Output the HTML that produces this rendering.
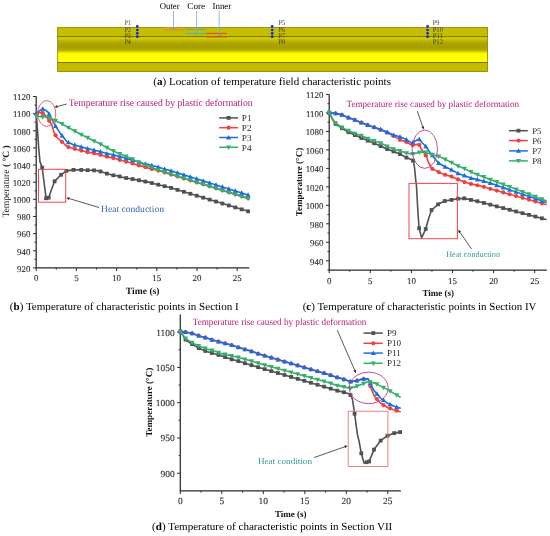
<!DOCTYPE html>
<html><head><meta charset="utf-8"><title>Temperature field characteristic points</title>
<style>html,body{margin:0;padding:0;background:#fff;}body{width:550px;height:536px;overflow:hidden;}svg{display:block;font-family:"Liberation Serif", "DejaVu Serif", serif;text-rendering:geometricPrecision;}</style></head><body>
<svg width="550" height="536" viewBox="0 0 550 536">
<defs><linearGradient id="mid" x1="0" y1="0" x2="0" y2="1"><stop offset="0" stop-color="#d6d200"/><stop offset="0.08" stop-color="#d2cc00"/><stop offset="0.197" stop-color="#b8b000"/><stop offset="0.313" stop-color="#aaa200"/><stop offset="0.429" stop-color="#a8a000"/><stop offset="0.525" stop-color="#b4ac00"/><stop offset="0.602" stop-color="#dcd800"/><stop offset="0.66" stop-color="#fafa00"/><stop offset="0.718" stop-color="#ffff00"/><stop offset="0.969" stop-color="#ffff00"/><stop offset="1" stop-color="#e8e400"/></linearGradient></defs>
<rect width="550" height="536" fill="#fff"/>
<rect x="57.4" y="27.2" width="430.4" height="9.2" fill="#c4bd00"/>
<rect x="57.4" y="36.4" width="430.4" height="25.9" fill="url(#mid)"/>
<rect x="57.4" y="62.3" width="430.4" height="9.5" fill="#c2bb00"/>
<rect x="57.7" y="27.5" width="429.8" height="44" fill="none" stroke="#8f8700" stroke-width="0.8"/>
<path d="M57.4 36.6H487.8 M57.4 62.5H487.8" stroke="#7a7000" stroke-width="1"/>
<path d="M164 27.5H184.2" stroke="#f07a30" stroke-width="0.9"/>
<path d="M164 29.9H184.2" stroke="#e8803a" stroke-width="0.9"/>
<path d="M185.9 29.5H206.5 M185.9 33.5H206.5" stroke="#30b8c8" stroke-width="0.9"/>
<path d="M206.5 33.4H227 M206.5 36.9H227" stroke="#e04010" stroke-width="0.9"/>
<path d="M173.5 11V28.5 M196.6 11V33 M219.2 11V35" stroke="#6aaef0" stroke-width="0.8"/>
<circle cx="173.5" cy="28.6" r="1.1" fill="#5aa0ee"/>
<circle cx="196.6" cy="33.1" r="1.1" fill="#5aa0ee"/>
<circle cx="219.2" cy="35.1" r="1.1" fill="#5aa0ee"/>
<text x="169.7" y="9.1" font-size="9.2" text-anchor="middle" fill="#000" textLength="19.9" lengthAdjust="spacingAndGlyphs">Outer</text>
<text x="196.2" y="9.1" font-size="9.2" text-anchor="middle" fill="#000" textLength="17.9" lengthAdjust="spacingAndGlyphs">Core</text>
<text x="221.9" y="9.1" font-size="9.2" text-anchor="middle" fill="#000" textLength="18.9" lengthAdjust="spacingAndGlyphs">Inner</text>
<circle cx="137.3" cy="26.4" r="1.35" fill="#0a28e8"/>
<circle cx="137.3" cy="30" r="1.35" fill="#0a28e8"/>
<circle cx="137.3" cy="33.3" r="1.35" fill="#0a28e8"/>
<circle cx="137.3" cy="36.7" r="1.35" fill="#0a28e8"/>
<text x="124.4" y="24.8" font-size="7.3" text-anchor="start" fill="#3c3c3c" textLength="6.6" lengthAdjust="spacingAndGlyphs">P1</text>
<text x="124.4" y="31.5" font-size="7.3" text-anchor="start" fill="#3c3c3c" textLength="6.6" lengthAdjust="spacingAndGlyphs">P2</text>
<text x="124.4" y="37.7" font-size="7.3" text-anchor="start" fill="#3c3c3c" textLength="6.6" lengthAdjust="spacingAndGlyphs">P3</text>
<text x="124.4" y="44" font-size="7.3" text-anchor="start" fill="#3c3c3c" textLength="6.6" lengthAdjust="spacingAndGlyphs">P4</text>
<circle cx="272.2" cy="26.4" r="1.35" fill="#0a28e8"/>
<circle cx="272.2" cy="30" r="1.35" fill="#0a28e8"/>
<circle cx="272.2" cy="33.3" r="1.35" fill="#0a28e8"/>
<circle cx="272.2" cy="36.7" r="1.35" fill="#0a28e8"/>
<text x="278.6" y="24.8" font-size="7.3" text-anchor="start" fill="#3c3c3c" textLength="6.6" lengthAdjust="spacingAndGlyphs">P5</text>
<text x="278.6" y="31.5" font-size="7.3" text-anchor="start" fill="#3c3c3c" textLength="6.6" lengthAdjust="spacingAndGlyphs">P6</text>
<text x="278.6" y="37.7" font-size="7.3" text-anchor="start" fill="#3c3c3c" textLength="6.6" lengthAdjust="spacingAndGlyphs">P7</text>
<text x="278.6" y="44" font-size="7.3" text-anchor="start" fill="#3c3c3c" textLength="6.6" lengthAdjust="spacingAndGlyphs">P8</text>
<circle cx="427.6" cy="26.4" r="1.35" fill="#0a28e8"/>
<circle cx="427.6" cy="30" r="1.35" fill="#0a28e8"/>
<circle cx="427.6" cy="33.3" r="1.35" fill="#0a28e8"/>
<circle cx="427.6" cy="36.7" r="1.35" fill="#0a28e8"/>
<text x="432.7" y="24.8" font-size="7.3" text-anchor="start" fill="#3c3c3c" textLength="6.6" lengthAdjust="spacingAndGlyphs">P9</text>
<text x="432.7" y="31.5" font-size="7.3" text-anchor="start" fill="#3c3c3c" textLength="10.3" lengthAdjust="spacingAndGlyphs">P10</text>
<text x="432.7" y="37.7" font-size="7.3" text-anchor="start" fill="#3c3c3c" textLength="10.3" lengthAdjust="spacingAndGlyphs">P11</text>
<text x="432.7" y="44" font-size="7.3" text-anchor="start" fill="#3c3c3c" textLength="10.3" lengthAdjust="spacingAndGlyphs">P12</text>
<text x="153.2" y="84.9" font-size="10.9" fill="#000" textLength="237.8" lengthAdjust="spacingAndGlyphs">(<tspan font-weight="bold">a</tspan>) Location of temperature field characteristic points</text>
<path d="M36.2 96.3 V267.9 H249.3" fill="none" stroke="#2b2b2b" stroke-width="1.25"/>
<path d="M33 267.9H36.2" stroke="#2b2b2b" stroke-width="1"/>
<text x="30.4" y="271.74" font-size="8.9" text-anchor="end" fill="#2a2a2a" stroke="#2a2a2a" stroke-width="0.1">920</text>
<path d="M33 250.76H36.2" stroke="#2b2b2b" stroke-width="1"/>
<text x="30.4" y="254.6" font-size="8.9" text-anchor="end" fill="#2a2a2a" stroke="#2a2a2a" stroke-width="0.1">940</text>
<path d="M33 233.62H36.2" stroke="#2b2b2b" stroke-width="1"/>
<text x="30.4" y="237.46" font-size="8.9" text-anchor="end" fill="#2a2a2a" stroke="#2a2a2a" stroke-width="0.1">960</text>
<path d="M33 216.48H36.2" stroke="#2b2b2b" stroke-width="1"/>
<text x="30.4" y="220.32" font-size="8.9" text-anchor="end" fill="#2a2a2a" stroke="#2a2a2a" stroke-width="0.1">980</text>
<path d="M33 199.34H36.2" stroke="#2b2b2b" stroke-width="1"/>
<text x="30.4" y="203.18" font-size="8.9" text-anchor="end" fill="#2a2a2a" stroke="#2a2a2a" stroke-width="0.1">1000</text>
<path d="M33 182.2H36.2" stroke="#2b2b2b" stroke-width="1"/>
<text x="30.4" y="186.04" font-size="8.9" text-anchor="end" fill="#2a2a2a" stroke="#2a2a2a" stroke-width="0.1">1020</text>
<path d="M33 165.06H36.2" stroke="#2b2b2b" stroke-width="1"/>
<text x="30.4" y="168.9" font-size="8.9" text-anchor="end" fill="#2a2a2a" stroke="#2a2a2a" stroke-width="0.1">1040</text>
<path d="M33 147.92H36.2" stroke="#2b2b2b" stroke-width="1"/>
<text x="30.4" y="151.76" font-size="8.9" text-anchor="end" fill="#2a2a2a" stroke="#2a2a2a" stroke-width="0.1">1060</text>
<path d="M33 130.78H36.2" stroke="#2b2b2b" stroke-width="1"/>
<text x="30.4" y="134.62" font-size="8.9" text-anchor="end" fill="#2a2a2a" stroke="#2a2a2a" stroke-width="0.1">1080</text>
<path d="M33 113.64H36.2" stroke="#2b2b2b" stroke-width="1"/>
<text x="30.4" y="117.48" font-size="8.9" text-anchor="end" fill="#2a2a2a" stroke="#2a2a2a" stroke-width="0.1">1100</text>
<path d="M33 96.5H36.2" stroke="#2b2b2b" stroke-width="1"/>
<text x="30.4" y="100.34" font-size="8.9" text-anchor="end" fill="#2a2a2a" stroke="#2a2a2a" stroke-width="0.1">1120</text>
<path d="M34.4 259.33H36.2" stroke="#2b2b2b" stroke-width="0.9"/>
<path d="M34.4 242.19H36.2" stroke="#2b2b2b" stroke-width="0.9"/>
<path d="M34.4 225.05H36.2" stroke="#2b2b2b" stroke-width="0.9"/>
<path d="M34.4 207.91H36.2" stroke="#2b2b2b" stroke-width="0.9"/>
<path d="M34.4 190.77H36.2" stroke="#2b2b2b" stroke-width="0.9"/>
<path d="M34.4 173.63H36.2" stroke="#2b2b2b" stroke-width="0.9"/>
<path d="M34.4 156.49H36.2" stroke="#2b2b2b" stroke-width="0.9"/>
<path d="M34.4 139.35H36.2" stroke="#2b2b2b" stroke-width="0.9"/>
<path d="M34.4 122.21H36.2" stroke="#2b2b2b" stroke-width="0.9"/>
<path d="M34.4 105.07H36.2" stroke="#2b2b2b" stroke-width="0.9"/>
<path d="M36.2 267.9V271.1" stroke="#2b2b2b" stroke-width="1"/>
<text x="36.2" y="281.1" font-size="8.9" text-anchor="middle" fill="#2a2a2a" stroke="#2a2a2a" stroke-width="0.1">0</text>
<path d="M76.4 267.9V271.1" stroke="#2b2b2b" stroke-width="1"/>
<text x="76.4" y="281.1" font-size="8.9" text-anchor="middle" fill="#2a2a2a" stroke="#2a2a2a" stroke-width="0.1">5</text>
<path d="M116.6 267.9V271.1" stroke="#2b2b2b" stroke-width="1"/>
<text x="116.6" y="281.1" font-size="8.9" text-anchor="middle" fill="#2a2a2a" stroke="#2a2a2a" stroke-width="0.1">10</text>
<path d="M156.8 267.9V271.1" stroke="#2b2b2b" stroke-width="1"/>
<text x="156.8" y="281.1" font-size="8.9" text-anchor="middle" fill="#2a2a2a" stroke="#2a2a2a" stroke-width="0.1">15</text>
<path d="M197 267.9V271.1" stroke="#2b2b2b" stroke-width="1"/>
<text x="197" y="281.1" font-size="8.9" text-anchor="middle" fill="#2a2a2a" stroke="#2a2a2a" stroke-width="0.1">20</text>
<path d="M237.2 267.9V271.1" stroke="#2b2b2b" stroke-width="1"/>
<text x="237.2" y="281.1" font-size="8.9" text-anchor="middle" fill="#2a2a2a" stroke="#2a2a2a" stroke-width="0.1">25</text>
<path d="M56.3 267.9V269.7" stroke="#2b2b2b" stroke-width="0.9"/>
<path d="M96.5 267.9V269.7" stroke="#2b2b2b" stroke-width="0.9"/>
<path d="M136.7 267.9V269.7" stroke="#2b2b2b" stroke-width="0.9"/>
<path d="M176.9 267.9V269.7" stroke="#2b2b2b" stroke-width="0.9"/>
<path d="M217.1 267.9V269.7" stroke="#2b2b2b" stroke-width="0.9"/>
<text x="142.7" y="294.3" font-size="9.5" text-anchor="middle" fill="#111" font-weight="bold" textLength="33.7" lengthAdjust="spacingAndGlyphs">Time (s)</text>
<text x="0" y="0" font-size="9.6" text-anchor="middle" fill="#1a1a1a" textLength="72.4" lengthAdjust="spacingAndGlyphs" transform="translate(8.6 181.4) rotate(-90)">Temperature<tspan font-weight="bold"> ( °C )</tspan></text>
<path d="M36.3 113.5 L37.6 131.8 L38.8 149.7 L40 161.6 L42.2 167.6 L44.1 182.6 L46.1 198.3 L48.7 197.7 L50.7 191.8 L54.6 181.3 L56.5 179.4 L61.1 174.8 L66.3 170.9 L73.5 169.9 L80 169.9 L86.6 170.2 L92.5 170.2 L99 170.9 L105.2 173.1 L111.8 175.1 L117.6 175.9 L124.2 177.7 L130.7 178.8 L137.2 179.9 L143.1 181.1 L149.6 182.4 L156.2 184.2 L162.7 185.7 L170 187.6 L248.1 211.3" fill="none" stroke="#515151" stroke-width="1.6" stroke-linejoin="round" stroke-linecap="round"/>
<rect x="40.3" y="165.7" width="3.8" height="3.8" fill="#515151"/>
<rect x="44.2" y="196.4" width="3.8" height="3.8" fill="#515151"/>
<rect x="46.8" y="195.8" width="3.8" height="3.8" fill="#515151"/>
<rect x="52.7" y="179.4" width="3.8" height="3.8" fill="#515151"/>
<rect x="59.2" y="172.9" width="3.8" height="3.8" fill="#515151"/>
<rect x="64.4" y="169" width="3.8" height="3.8" fill="#515151"/>
<rect x="71.6" y="168" width="3.8" height="3.8" fill="#515151"/>
<rect x="79.33" y="168.06" width="3.8" height="3.8" fill="#515151"/>
<rect x="85.74" y="168.3" width="3.8" height="3.8" fill="#515151"/>
<rect x="92.16" y="168.47" width="3.8" height="3.8" fill="#515151"/>
<rect x="98.58" y="169.53" width="3.8" height="3.8" fill="#515151"/>
<rect x="105" y="171.71" width="3.8" height="3.8" fill="#515151"/>
<rect x="111.42" y="173.41" width="3.8" height="3.8" fill="#515151"/>
<rect x="117.83" y="174.58" width="3.8" height="3.8" fill="#515151"/>
<rect x="124.25" y="176.13" width="3.8" height="3.8" fill="#515151"/>
<rect x="130.67" y="177.22" width="3.8" height="3.8" fill="#515151"/>
<rect x="137.09" y="178.36" width="3.8" height="3.8" fill="#515151"/>
<rect x="143.51" y="179.66" width="3.8" height="3.8" fill="#515151"/>
<rect x="149.92" y="181.11" width="3.8" height="3.8" fill="#515151"/>
<rect x="156.34" y="182.77" width="3.8" height="3.8" fill="#515151"/>
<rect x="162.76" y="184.31" width="3.8" height="3.8" fill="#515151"/>
<rect x="169.18" y="186.03" width="3.8" height="3.8" fill="#515151"/>
<rect x="175.6" y="187.97" width="3.8" height="3.8" fill="#515151"/>
<rect x="182.01" y="189.92" width="3.8" height="3.8" fill="#515151"/>
<rect x="188.43" y="191.87" width="3.8" height="3.8" fill="#515151"/>
<rect x="194.85" y="193.82" width="3.8" height="3.8" fill="#515151"/>
<rect x="201.27" y="195.77" width="3.8" height="3.8" fill="#515151"/>
<rect x="207.69" y="197.71" width="3.8" height="3.8" fill="#515151"/>
<rect x="214.1" y="199.66" width="3.8" height="3.8" fill="#515151"/>
<rect x="220.52" y="201.61" width="3.8" height="3.8" fill="#515151"/>
<rect x="226.94" y="203.56" width="3.8" height="3.8" fill="#515151"/>
<rect x="233.36" y="205.5" width="3.8" height="3.8" fill="#515151"/>
<rect x="239.78" y="207.45" width="3.8" height="3.8" fill="#515151"/>
<rect x="246.19" y="209.4" width="3.8" height="3.8" fill="#515151"/>
<path d="M36.3 114 L39 112.8 L42.2 112.4 L45 115 L48 119 L52 125.5 L54.6 134 L57.5 138 L61.1 141.1 L67.6 146.8 L73.5 148.6 L80 150.3 L86.6 152 L92.5 152.9 L99 154.4 L105.9 156.6 L111.8 157.6 L118.3 159.6 L124.8 161.3 L130.7 162.8 L137.2 165 L143.1 166.6 L149.6 168.4 L156.2 170 L162.7 171.8 L170 174.2 L248.1 197.9" fill="none" stroke="#F14040" stroke-width="1.6" stroke-linejoin="round" stroke-linecap="round"/>
<circle cx="36.3" cy="114" r="2.1" fill="#F14040"/>
<circle cx="42.72" cy="112.88" r="2.1" fill="#F14040"/>
<circle cx="49.14" cy="120.85" r="2.1" fill="#F14040"/>
<circle cx="55.55" cy="135.32" r="2.1" fill="#F14040"/>
<circle cx="61.97" cy="141.86" r="2.1" fill="#F14040"/>
<circle cx="68.39" cy="147.04" r="2.1" fill="#F14040"/>
<circle cx="74.81" cy="148.94" r="2.1" fill="#F14040"/>
<circle cx="81.23" cy="150.62" r="2.1" fill="#F14040"/>
<circle cx="87.64" cy="152.16" r="2.1" fill="#F14040"/>
<circle cx="94.06" cy="153.26" r="2.1" fill="#F14040"/>
<circle cx="100.48" cy="154.87" r="2.1" fill="#F14040"/>
<circle cx="106.9" cy="156.77" r="2.1" fill="#F14040"/>
<circle cx="113.32" cy="158.07" r="2.1" fill="#F14040"/>
<circle cx="119.73" cy="159.98" r="2.1" fill="#F14040"/>
<circle cx="126.15" cy="161.64" r="2.1" fill="#F14040"/>
<circle cx="132.57" cy="163.43" r="2.1" fill="#F14040"/>
<circle cx="138.99" cy="165.48" r="2.1" fill="#F14040"/>
<circle cx="145.41" cy="167.24" r="2.1" fill="#F14040"/>
<circle cx="151.82" cy="168.94" r="2.1" fill="#F14040"/>
<circle cx="158.24" cy="170.57" r="2.1" fill="#F14040"/>
<circle cx="164.66" cy="172.44" r="2.1" fill="#F14040"/>
<circle cx="171.08" cy="174.53" r="2.1" fill="#F14040"/>
<circle cx="177.5" cy="176.47" r="2.1" fill="#F14040"/>
<circle cx="183.91" cy="178.42" r="2.1" fill="#F14040"/>
<circle cx="190.33" cy="180.37" r="2.1" fill="#F14040"/>
<circle cx="196.75" cy="182.32" r="2.1" fill="#F14040"/>
<circle cx="203.17" cy="184.27" r="2.1" fill="#F14040"/>
<circle cx="209.59" cy="186.21" r="2.1" fill="#F14040"/>
<circle cx="216" cy="188.16" r="2.1" fill="#F14040"/>
<circle cx="222.42" cy="190.11" r="2.1" fill="#F14040"/>
<circle cx="228.84" cy="192.06" r="2.1" fill="#F14040"/>
<circle cx="235.26" cy="194" r="2.1" fill="#F14040"/>
<circle cx="241.68" cy="195.95" r="2.1" fill="#F14040"/>
<circle cx="248.09" cy="197.9" r="2.1" fill="#F14040"/>
<path d="M36.3 113.3 L39.5 110.8 L42.8 108.7 L45.5 110.2 L48 112.2 L50.7 117 L55.2 125.5 L61.1 134.6 L67 141.8 L72.9 144.4 L80 146.4 L86.6 148.3 L92.5 149.8 L99 151.3 L105.9 153.3 L111.8 154.5 L118.3 156.1 L124.8 158.1 L130.7 159.8 L137.2 161.6 L143.1 163.3 L149.6 164.8 L156.2 166.6 L162.7 168.5 L170 170.5 L248.1 195" fill="none" stroke="#1A6FDF" stroke-width="1.6" stroke-linejoin="round" stroke-linecap="round"/>
<path d="M36.3 110.67L38.8 115.17L33.8 115.17Z" fill="#1A6FDF"/>
<path d="M42.72 106.13L45.22 110.63L40.22 110.63Z" fill="#1A6FDF"/>
<path d="M49.14 111.59L51.64 116.09L46.64 116.09Z" fill="#1A6FDF"/>
<path d="M55.55 123.42L58.05 127.92L53.05 127.92Z" fill="#1A6FDF"/>
<path d="M61.97 133.04L64.47 137.54L59.47 137.54Z" fill="#1A6FDF"/>
<path d="M68.39 139.79L70.89 144.29L65.89 144.29Z" fill="#1A6FDF"/>
<path d="M74.81 142.31L77.31 146.81L72.31 146.81Z" fill="#1A6FDF"/>
<path d="M81.23 144.13L83.73 148.63L78.73 148.63Z" fill="#1A6FDF"/>
<path d="M87.64 145.94L90.14 150.44L85.14 150.44Z" fill="#1A6FDF"/>
<path d="M94.06 147.54L96.56 152.04L91.56 152.04Z" fill="#1A6FDF"/>
<path d="M100.48 149.1L102.98 153.6L97.98 153.6Z" fill="#1A6FDF"/>
<path d="M106.9 150.88L109.4 155.38L104.4 155.38Z" fill="#1A6FDF"/>
<path d="M113.32 152.25L115.82 156.75L110.82 156.75Z" fill="#1A6FDF"/>
<path d="M119.73 153.92L122.23 158.42L117.23 158.42Z" fill="#1A6FDF"/>
<path d="M126.15 155.86L128.65 160.36L123.65 160.36Z" fill="#1A6FDF"/>
<path d="M132.57 157.69L135.07 162.19L130.07 162.19Z" fill="#1A6FDF"/>
<path d="M138.99 159.49L141.49 163.99L136.49 163.99Z" fill="#1A6FDF"/>
<path d="M145.41 161.21L147.91 165.71L142.91 165.71Z" fill="#1A6FDF"/>
<path d="M151.82 162.78L154.32 167.28L149.32 167.28Z" fill="#1A6FDF"/>
<path d="M158.24 164.57L160.74 169.07L155.74 169.07Z" fill="#1A6FDF"/>
<path d="M164.66 166.41L167.16 170.91L162.16 170.91Z" fill="#1A6FDF"/>
<path d="M171.08 168.21L173.58 172.71L168.58 172.71Z" fill="#1A6FDF"/>
<path d="M177.5 170.23L180 174.73L175 174.73Z" fill="#1A6FDF"/>
<path d="M183.91 172.24L186.41 176.74L181.41 176.74Z" fill="#1A6FDF"/>
<path d="M190.33 174.25L192.83 178.75L187.83 178.75Z" fill="#1A6FDF"/>
<path d="M196.75 176.27L199.25 180.77L194.25 180.77Z" fill="#1A6FDF"/>
<path d="M203.17 178.28L205.67 182.78L200.67 182.78Z" fill="#1A6FDF"/>
<path d="M209.59 180.29L212.09 184.79L207.09 184.79Z" fill="#1A6FDF"/>
<path d="M216 182.31L218.5 186.81L213.5 186.81Z" fill="#1A6FDF"/>
<path d="M222.42 184.32L224.92 188.82L219.92 188.82Z" fill="#1A6FDF"/>
<path d="M228.84 186.33L231.34 190.83L226.34 190.83Z" fill="#1A6FDF"/>
<path d="M235.26 188.35L237.76 192.85L232.76 192.85Z" fill="#1A6FDF"/>
<path d="M241.68 190.36L244.18 194.86L239.18 194.86Z" fill="#1A6FDF"/>
<path d="M248.09 192.37L250.59 196.87L245.59 196.87Z" fill="#1A6FDF"/>
<path d="M36.3 116 L42.8 117 L48 117 L54.6 120.2 L61.1 123.5 L67 126.8 L74.2 130.7 L80 134 L86.6 137.2 L92.5 140.3 L99 143.3 L105.9 147 L111.8 150.2 L118.3 153.2 L124.8 155.9 L130.7 158.3 L137.2 161.6 L143.1 164.3 L149.6 166.6 L156.2 169.2 L162.7 171.3 L170 173.8 L248.1 198.7" fill="none" stroke="#37AD6B" stroke-width="1.6" stroke-linejoin="round" stroke-linecap="round"/>
<path d="M36.3 118.62L38.8 114.12L33.8 114.12Z" fill="#37AD6B"/>
<path d="M42.72 119.61L45.22 115.11L40.22 115.11Z" fill="#37AD6B"/>
<path d="M49.14 120.18L51.64 115.68L46.64 115.68Z" fill="#37AD6B"/>
<path d="M55.55 123.31L58.05 118.81L53.05 118.81Z" fill="#37AD6B"/>
<path d="M61.97 126.61L64.47 122.11L59.47 122.11Z" fill="#37AD6B"/>
<path d="M68.39 130.18L70.89 125.68L65.89 125.68Z" fill="#37AD6B"/>
<path d="M74.81 133.67L77.31 129.17L72.31 129.17Z" fill="#37AD6B"/>
<path d="M81.23 137.22L83.73 132.72L78.73 132.72Z" fill="#37AD6B"/>
<path d="M87.64 140.37L90.14 135.87L85.14 135.87Z" fill="#37AD6B"/>
<path d="M94.06 143.65L96.56 139.15L91.56 139.15Z" fill="#37AD6B"/>
<path d="M100.48 146.72L102.98 142.22L97.98 142.22Z" fill="#37AD6B"/>
<path d="M106.9 150.17L109.4 145.67L104.4 145.67Z" fill="#37AD6B"/>
<path d="M113.32 153.52L115.82 149.02L110.82 149.02Z" fill="#37AD6B"/>
<path d="M119.73 156.42L122.23 151.92L117.23 151.92Z" fill="#37AD6B"/>
<path d="M126.15 159.07L128.65 154.57L123.65 154.57Z" fill="#37AD6B"/>
<path d="M132.57 161.87L135.07 157.37L130.07 157.37Z" fill="#37AD6B"/>
<path d="M138.99 165.04L141.49 160.54L136.49 160.54Z" fill="#37AD6B"/>
<path d="M145.41 167.74L147.91 163.24L142.91 163.24Z" fill="#37AD6B"/>
<path d="M151.82 170.1L154.32 165.6L149.32 165.6Z" fill="#37AD6B"/>
<path d="M158.24 172.48L160.74 167.98L155.74 167.98Z" fill="#37AD6B"/>
<path d="M164.66 174.6L167.16 170.1L162.16 170.1Z" fill="#37AD6B"/>
<path d="M171.08 176.77L173.58 172.27L168.58 172.27Z" fill="#37AD6B"/>
<path d="M177.5 178.81L180 174.31L175 174.31Z" fill="#37AD6B"/>
<path d="M183.91 180.86L186.41 176.36L181.41 176.36Z" fill="#37AD6B"/>
<path d="M190.33 182.91L192.83 178.41L187.83 178.41Z" fill="#37AD6B"/>
<path d="M196.75 184.95L199.25 180.45L194.25 180.45Z" fill="#37AD6B"/>
<path d="M203.17 187L205.67 182.5L200.67 182.5Z" fill="#37AD6B"/>
<path d="M209.59 189.05L212.09 184.55L207.09 184.55Z" fill="#37AD6B"/>
<path d="M216 191.09L218.5 186.59L213.5 186.59Z" fill="#37AD6B"/>
<path d="M222.42 193.14L224.92 188.64L219.92 188.64Z" fill="#37AD6B"/>
<path d="M228.84 195.18L231.34 190.68L226.34 190.68Z" fill="#37AD6B"/>
<path d="M235.26 197.23L237.76 192.73L232.76 192.73Z" fill="#37AD6B"/>
<path d="M241.68 199.28L244.18 194.78L239.18 194.78Z" fill="#37AD6B"/>
<path d="M248.09 201.32L250.59 196.82L245.59 196.82Z" fill="#37AD6B"/>
<ellipse cx="46.7" cy="113.5" rx="9" ry="12.9" fill="none" stroke="#e05050" stroke-width="0.9"/>
<rect x="38.5" y="169.3" width="27.2" height="32.9" fill="none" stroke="#f04848" stroke-width="1"/>
<path d="M66.8 104L57.49 106.48" stroke="#222" stroke-width="0.75"/>
<path d="M54.4 107.3L57.13 105.12L57.85 107.83Z" fill="#222"/>
<path d="M99 207.5L69.37 198.62" stroke="#222" stroke-width="0.75"/>
<path d="M66.3 197.7L69.77 197.28L68.96 199.96Z" fill="#222"/>
<text x="68.7" y="105.5" font-size="10.1" text-anchor="start" fill="#B41C70" textLength="184" lengthAdjust="spacingAndGlyphs">Temperature rise caused by plastic deformation</text>
<text x="101.1" y="212.4" font-size="9.4" text-anchor="start" fill="#3363b0" textLength="62.9" lengthAdjust="spacingAndGlyphs">Heat conduction</text>
<path d="M219.1 117.9H238" stroke="#515151" stroke-width="1.5"/>
<rect x="226.7" y="116" width="3.8" height="3.8" fill="#515151"/>
<text x="241.8" y="121.2" font-size="9.2" text-anchor="start" fill="#2a2a2a">P1</text>
<path d="M219.1 127.7H238" stroke="#F14040" stroke-width="1.5"/>
<circle cx="228.6" cy="127.7" r="2.1" fill="#F14040"/>
<text x="241.8" y="131" font-size="9.2" text-anchor="start" fill="#2a2a2a">P2</text>
<path d="M219.1 137.5H238" stroke="#1A6FDF" stroke-width="1.5"/>
<path d="M228.6 134.88L231.1 139.38L226.1 139.38Z" fill="#1A6FDF"/>
<text x="241.8" y="140.8" font-size="9.2" text-anchor="start" fill="#2a2a2a">P3</text>
<path d="M219.1 147.3H238" stroke="#37AD6B" stroke-width="1.5"/>
<path d="M228.6 149.93L231.1 145.43L226.1 145.43Z" fill="#37AD6B"/>
<text x="241.8" y="150.6" font-size="9.2" text-anchor="start" fill="#2a2a2a">P4</text>
<text x="9.8" y="310.4" font-size="10.9" fill="#000" textLength="228.9" lengthAdjust="spacingAndGlyphs">(<tspan font-weight="bold">b</tspan>) Temperature of characteristic points in Section I</text>
<path d="M329.2 94.4 V270 H546.9" fill="none" stroke="#2b2b2b" stroke-width="1.25"/>
<path d="M326 260.76H329.2" stroke="#2b2b2b" stroke-width="1"/>
<text x="323.4" y="264.6" font-size="8.9" text-anchor="end" fill="#2a2a2a" stroke="#2a2a2a" stroke-width="0.1">940</text>
<path d="M326 242.28H329.2" stroke="#2b2b2b" stroke-width="1"/>
<text x="323.4" y="246.12" font-size="8.9" text-anchor="end" fill="#2a2a2a" stroke="#2a2a2a" stroke-width="0.1">960</text>
<path d="M326 223.8H329.2" stroke="#2b2b2b" stroke-width="1"/>
<text x="323.4" y="227.64" font-size="8.9" text-anchor="end" fill="#2a2a2a" stroke="#2a2a2a" stroke-width="0.1">980</text>
<path d="M326 205.32H329.2" stroke="#2b2b2b" stroke-width="1"/>
<text x="323.4" y="209.16" font-size="8.9" text-anchor="end" fill="#2a2a2a" stroke="#2a2a2a" stroke-width="0.1">1000</text>
<path d="M326 186.84H329.2" stroke="#2b2b2b" stroke-width="1"/>
<text x="323.4" y="190.68" font-size="8.9" text-anchor="end" fill="#2a2a2a" stroke="#2a2a2a" stroke-width="0.1">1020</text>
<path d="M326 168.36H329.2" stroke="#2b2b2b" stroke-width="1"/>
<text x="323.4" y="172.2" font-size="8.9" text-anchor="end" fill="#2a2a2a" stroke="#2a2a2a" stroke-width="0.1">1040</text>
<path d="M326 149.88H329.2" stroke="#2b2b2b" stroke-width="1"/>
<text x="323.4" y="153.72" font-size="8.9" text-anchor="end" fill="#2a2a2a" stroke="#2a2a2a" stroke-width="0.1">1060</text>
<path d="M326 131.4H329.2" stroke="#2b2b2b" stroke-width="1"/>
<text x="323.4" y="135.24" font-size="8.9" text-anchor="end" fill="#2a2a2a" stroke="#2a2a2a" stroke-width="0.1">1080</text>
<path d="M326 112.92H329.2" stroke="#2b2b2b" stroke-width="1"/>
<text x="323.4" y="116.76" font-size="8.9" text-anchor="end" fill="#2a2a2a" stroke="#2a2a2a" stroke-width="0.1">1100</text>
<path d="M326 94.44H329.2" stroke="#2b2b2b" stroke-width="1"/>
<text x="323.4" y="98.28" font-size="8.9" text-anchor="end" fill="#2a2a2a" stroke="#2a2a2a" stroke-width="0.1">1120</text>
<path d="M327.4 270H329.2" stroke="#2b2b2b" stroke-width="0.9"/>
<path d="M327.4 251.52H329.2" stroke="#2b2b2b" stroke-width="0.9"/>
<path d="M327.4 233.04H329.2" stroke="#2b2b2b" stroke-width="0.9"/>
<path d="M327.4 214.56H329.2" stroke="#2b2b2b" stroke-width="0.9"/>
<path d="M327.4 196.08H329.2" stroke="#2b2b2b" stroke-width="0.9"/>
<path d="M327.4 177.6H329.2" stroke="#2b2b2b" stroke-width="0.9"/>
<path d="M327.4 159.12H329.2" stroke="#2b2b2b" stroke-width="0.9"/>
<path d="M327.4 140.64H329.2" stroke="#2b2b2b" stroke-width="0.9"/>
<path d="M327.4 122.16H329.2" stroke="#2b2b2b" stroke-width="0.9"/>
<path d="M327.4 103.68H329.2" stroke="#2b2b2b" stroke-width="0.9"/>
<path d="M329.2 270V273.2" stroke="#2b2b2b" stroke-width="1"/>
<text x="329.2" y="283.9" font-size="8.9" text-anchor="middle" fill="#2a2a2a" stroke="#2a2a2a" stroke-width="0.1">0</text>
<path d="M370.3 270V273.2" stroke="#2b2b2b" stroke-width="1"/>
<text x="370.3" y="283.9" font-size="8.9" text-anchor="middle" fill="#2a2a2a" stroke="#2a2a2a" stroke-width="0.1">5</text>
<path d="M411.4 270V273.2" stroke="#2b2b2b" stroke-width="1"/>
<text x="411.4" y="283.9" font-size="8.9" text-anchor="middle" fill="#2a2a2a" stroke="#2a2a2a" stroke-width="0.1">10</text>
<path d="M452.5 270V273.2" stroke="#2b2b2b" stroke-width="1"/>
<text x="452.5" y="283.9" font-size="8.9" text-anchor="middle" fill="#2a2a2a" stroke="#2a2a2a" stroke-width="0.1">15</text>
<path d="M493.6 270V273.2" stroke="#2b2b2b" stroke-width="1"/>
<text x="493.6" y="283.9" font-size="8.9" text-anchor="middle" fill="#2a2a2a" stroke="#2a2a2a" stroke-width="0.1">20</text>
<path d="M534.7 270V273.2" stroke="#2b2b2b" stroke-width="1"/>
<text x="534.7" y="283.9" font-size="8.9" text-anchor="middle" fill="#2a2a2a" stroke="#2a2a2a" stroke-width="0.1">25</text>
<path d="M349.75 270V271.8" stroke="#2b2b2b" stroke-width="0.9"/>
<path d="M390.85 270V271.8" stroke="#2b2b2b" stroke-width="0.9"/>
<path d="M431.95 270V271.8" stroke="#2b2b2b" stroke-width="0.9"/>
<path d="M473.05 270V271.8" stroke="#2b2b2b" stroke-width="0.9"/>
<path d="M514.15 270V271.8" stroke="#2b2b2b" stroke-width="0.9"/>
<text x="438.3" y="296.2" font-size="9.1" text-anchor="middle" fill="#111" font-weight="bold" textLength="31.6" lengthAdjust="spacingAndGlyphs">Time (s)</text>
<text x="0" y="0" font-size="9" text-anchor="middle" fill="#111" font-weight="bold" textLength="68.5" lengthAdjust="spacingAndGlyphs" transform="translate(301.6 182.0) rotate(-90)">Temperature (°C)</text>
<path d="M329.3 112.7 L332.5 119.4 L335.5 123.9 L342.2 128.4 L348.1 132.1 L354.9 135.1 L361.6 138.1 L367.6 140.6 L374.3 143.3 L381 146.3 L387 149 L393.7 151.5 L399.8 154 L406.2 157.5 L411.8 159.7 L413.4 160.9 L414.6 168.1 L415.7 180 L416.4 184.9 L417.9 211.8 L419.1 228.2 L421.6 237.9 L425.7 229 L428.4 219.3 L431.6 210 L438.1 204.3 L444.8 201 L451.5 199.9 L457.5 198.7 L464.2 198.4 L470.9 199.9 L477.6 201.3 L546.1 219.4" fill="none" stroke="#515151" stroke-width="1.6" stroke-linejoin="round" stroke-linecap="round"/>
<rect x="327.4" y="110.8" width="3.8" height="3.8" fill="#515151"/>
<rect x="333.6" y="122" width="3.8" height="3.8" fill="#515151"/>
<rect x="340.05" y="126.33" width="3.8" height="3.8" fill="#515151"/>
<rect x="346.5" y="130.33" width="3.8" height="3.8" fill="#515151"/>
<rect x="352.95" y="133.18" width="3.8" height="3.8" fill="#515151"/>
<rect x="359.4" y="136.07" width="3.8" height="3.8" fill="#515151"/>
<rect x="365.85" y="138.76" width="3.8" height="3.8" fill="#515151"/>
<rect x="372.3" y="141.36" width="3.8" height="3.8" fill="#515151"/>
<rect x="378.75" y="144.24" width="3.8" height="3.8" fill="#515151"/>
<rect x="385.2" y="147.14" width="3.8" height="3.8" fill="#515151"/>
<rect x="391.65" y="149.54" width="3.8" height="3.8" fill="#515151"/>
<rect x="398.1" y="152.21" width="3.8" height="3.8" fill="#515151"/>
<rect x="404.55" y="155.7" width="3.8" height="3.8" fill="#515151"/>
<rect x="411" y="158.62" width="3.8" height="3.8" fill="#515151"/>
<rect x="417.2" y="226.3" width="3.8" height="3.8" fill="#515151"/>
<rect x="423.8" y="227.1" width="3.8" height="3.8" fill="#515151"/>
<rect x="429.7" y="208.1" width="3.8" height="3.8" fill="#515151"/>
<rect x="436.2" y="202.4" width="3.8" height="3.8" fill="#515151"/>
<rect x="442.9" y="199.1" width="3.8" height="3.8" fill="#515151"/>
<rect x="449.6" y="198" width="3.8" height="3.8" fill="#515151"/>
<rect x="456.1" y="196.78" width="3.8" height="3.8" fill="#515151"/>
<rect x="462.3" y="196.5" width="3.8" height="3.8" fill="#515151"/>
<rect x="469.05" y="198.01" width="3.8" height="3.8" fill="#515151"/>
<rect x="475.5" y="199.36" width="3.8" height="3.8" fill="#515151"/>
<rect x="481.95" y="201.05" width="3.8" height="3.8" fill="#515151"/>
<rect x="488.4" y="202.76" width="3.8" height="3.8" fill="#515151"/>
<rect x="494.85" y="204.46" width="3.8" height="3.8" fill="#515151"/>
<rect x="501.3" y="206.16" width="3.8" height="3.8" fill="#515151"/>
<rect x="507.75" y="207.87" width="3.8" height="3.8" fill="#515151"/>
<rect x="514.2" y="209.57" width="3.8" height="3.8" fill="#515151"/>
<rect x="520.65" y="211.28" width="3.8" height="3.8" fill="#515151"/>
<rect x="527.1" y="212.98" width="3.8" height="3.8" fill="#515151"/>
<rect x="533.55" y="214.69" width="3.8" height="3.8" fill="#515151"/>
<rect x="540" y="216.39" width="3.8" height="3.8" fill="#515151"/>
<path d="M329.3 112.7 L335.5 113.4 L342.2 114.9 L348.1 117.6 L354.9 119.9 L361.6 122.7 L367.6 125.1 L374.3 127.4 L381 130 L387 132.6 L393.7 136 L400 139.9 L406.2 141.8 L411.8 145.2 L415.7 144.6 L419 144.1 L420.7 148 L423.5 152.5 L426.3 156 L428.5 162.5 L431.7 168.5 L438.4 171.9 L444.6 174.7 L451.3 176.4 L458 179.4 L464.1 182 L470.9 183.9 L477.6 185.3 L483.7 186.8 L490 188.7 L546.1 204.5" fill="none" stroke="#F14040" stroke-width="1.6" stroke-linejoin="round" stroke-linecap="round"/>
<circle cx="329.3" cy="112.7" r="2.1" fill="#F14040"/>
<circle cx="335.5" cy="113.4" r="2.1" fill="#F14040"/>
<circle cx="341.95" cy="114.84" r="2.1" fill="#F14040"/>
<circle cx="348.4" cy="117.7" r="2.1" fill="#F14040"/>
<circle cx="354.85" cy="119.88" r="2.1" fill="#F14040"/>
<circle cx="361.3" cy="122.57" r="2.1" fill="#F14040"/>
<circle cx="367.75" cy="125.15" r="2.1" fill="#F14040"/>
<circle cx="374.2" cy="127.37" r="2.1" fill="#F14040"/>
<circle cx="380.65" cy="129.86" r="2.1" fill="#F14040"/>
<circle cx="387.1" cy="132.65" r="2.1" fill="#F14040"/>
<circle cx="393.55" cy="135.92" r="2.1" fill="#F14040"/>
<circle cx="400" cy="139.9" r="2.1" fill="#F14040"/>
<circle cx="406.45" cy="141.95" r="2.1" fill="#F14040"/>
<circle cx="412.9" cy="145.03" r="2.1" fill="#F14040"/>
<circle cx="419.35" cy="144.9" r="2.1" fill="#F14040"/>
<circle cx="425.8" cy="155.38" r="2.1" fill="#F14040"/>
<circle cx="432.25" cy="168.78" r="2.1" fill="#F14040"/>
<circle cx="438.7" cy="172.04" r="2.1" fill="#F14040"/>
<circle cx="445.15" cy="174.84" r="2.1" fill="#F14040"/>
<circle cx="451.6" cy="176.53" r="2.1" fill="#F14040"/>
<circle cx="458.05" cy="179.42" r="2.1" fill="#F14040"/>
<circle cx="464.5" cy="182.11" r="2.1" fill="#F14040"/>
<circle cx="470.95" cy="183.91" r="2.1" fill="#F14040"/>
<circle cx="477.4" cy="185.26" r="2.1" fill="#F14040"/>
<circle cx="483.85" cy="186.85" r="2.1" fill="#F14040"/>
<circle cx="490.3" cy="188.78" r="2.1" fill="#F14040"/>
<circle cx="496.75" cy="190.6" r="2.1" fill="#F14040"/>
<circle cx="503.2" cy="192.42" r="2.1" fill="#F14040"/>
<circle cx="509.65" cy="194.23" r="2.1" fill="#F14040"/>
<circle cx="516.1" cy="196.05" r="2.1" fill="#F14040"/>
<circle cx="522.55" cy="197.87" r="2.1" fill="#F14040"/>
<circle cx="529" cy="199.68" r="2.1" fill="#F14040"/>
<circle cx="535.45" cy="201.5" r="2.1" fill="#F14040"/>
<circle cx="541.9" cy="203.32" r="2.1" fill="#F14040"/>
<path d="M329.3 112.7 L335.5 113.4 L342.2 114.9 L348.1 117.6 L354.9 119.9 L361.6 122.7 L367.6 125.1 L374.3 127.2 L381 129.6 L387 132.1 L393.7 135.1 L400 136.8 L406.2 139.6 L411.8 142.9 L415.2 141 L419 139 L422.4 143 L425.7 146.3 L429.1 151.3 L432.5 155.8 L438.4 163 L444.6 166.5 L451.3 169.7 L458 173.4 L464.1 175.6 L470.9 178.1 L477.6 179.6 L483.7 181.2 L490 183.1 L546.1 202.2" fill="none" stroke="#1A6FDF" stroke-width="1.6" stroke-linejoin="round" stroke-linecap="round"/>
<path d="M329.3 110.08L331.8 114.58L326.8 114.58Z" fill="#1A6FDF"/>
<path d="M335.5 110.78L338 115.28L333 115.28Z" fill="#1A6FDF"/>
<path d="M341.95 112.22L344.45 116.72L339.45 116.72Z" fill="#1A6FDF"/>
<path d="M348.4 115.08L350.9 119.58L345.9 119.58Z" fill="#1A6FDF"/>
<path d="M354.85 117.26L357.35 121.76L352.35 121.76Z" fill="#1A6FDF"/>
<path d="M361.3 119.95L363.8 124.45L358.8 124.45Z" fill="#1A6FDF"/>
<path d="M367.75 122.52L370.25 127.02L365.25 127.02Z" fill="#1A6FDF"/>
<path d="M374.2 124.54L376.7 129.04L371.7 129.04Z" fill="#1A6FDF"/>
<path d="M380.65 126.85L383.15 131.35L378.15 131.35Z" fill="#1A6FDF"/>
<path d="M387.1 129.52L389.6 134.02L384.6 134.02Z" fill="#1A6FDF"/>
<path d="M393.55 132.41L396.05 136.91L391.05 136.91Z" fill="#1A6FDF"/>
<path d="M400 134.18L402.5 138.68L397.5 138.68Z" fill="#1A6FDF"/>
<path d="M406.45 137.12L408.95 141.62L403.95 141.62Z" fill="#1A6FDF"/>
<path d="M412.9 139.66L415.4 144.16L410.4 144.16Z" fill="#1A6FDF"/>
<path d="M419.35 136.79L421.85 141.29L416.85 141.29Z" fill="#1A6FDF"/>
<path d="M425.8 143.82L428.3 148.32L423.3 148.32Z" fill="#1A6FDF"/>
<path d="M432.25 152.84L434.75 157.34L429.75 157.34Z" fill="#1A6FDF"/>
<path d="M438.7 160.54L441.2 165.04L436.2 165.04Z" fill="#1A6FDF"/>
<path d="M445.15 164.14L447.65 168.64L442.65 168.64Z" fill="#1A6FDF"/>
<path d="M451.6 167.24L454.1 171.74L449.1 171.74Z" fill="#1A6FDF"/>
<path d="M458.05 170.79L460.55 175.29L455.55 175.29Z" fill="#1A6FDF"/>
<path d="M464.5 173.12L467 177.62L462 177.62Z" fill="#1A6FDF"/>
<path d="M470.95 175.49L473.45 179.99L468.45 179.99Z" fill="#1A6FDF"/>
<path d="M477.4 176.93L479.9 181.43L474.9 181.43Z" fill="#1A6FDF"/>
<path d="M483.85 178.62L486.35 183.12L481.35 183.12Z" fill="#1A6FDF"/>
<path d="M490.3 180.58L492.8 185.08L487.8 185.08Z" fill="#1A6FDF"/>
<path d="M496.75 182.77L499.25 187.27L494.25 187.27Z" fill="#1A6FDF"/>
<path d="M503.2 184.97L505.7 189.47L500.7 189.47Z" fill="#1A6FDF"/>
<path d="M509.65 187.17L512.15 191.67L507.15 191.67Z" fill="#1A6FDF"/>
<path d="M516.1 189.36L518.6 193.86L513.6 193.86Z" fill="#1A6FDF"/>
<path d="M522.55 191.56L525.05 196.06L520.05 196.06Z" fill="#1A6FDF"/>
<path d="M529 193.75L531.5 198.25L526.5 198.25Z" fill="#1A6FDF"/>
<path d="M535.45 195.95L537.95 200.45L532.95 200.45Z" fill="#1A6FDF"/>
<path d="M541.9 198.15L544.4 202.65L539.4 202.65Z" fill="#1A6FDF"/>
<path d="M329.3 112.7 L332.5 118.7 L335.5 123.1 L342.2 127.6 L348.1 130.6 L354.9 133.6 L361.6 135.8 L367.6 138.5 L374.3 141 L381 143.3 L387 146.3 L393.7 149.3 L400 151 L406.2 153 L412.3 154.1 L419 152.5 L424.6 151.9 L430 154 L438.4 156.2 L444.6 159 L451.3 162.4 L458 166 L464.1 168.5 L470.9 171.9 L477.6 174.7 L483.7 176.9 L490 179.4 L546.1 200.7" fill="none" stroke="#37AD6B" stroke-width="1.6" stroke-linejoin="round" stroke-linecap="round"/>
<path d="M329.3 115.33L331.8 110.83L326.8 110.83Z" fill="#37AD6B"/>
<path d="M335.5 125.72L338 121.22L333 121.22Z" fill="#37AD6B"/>
<path d="M341.95 130.06L344.45 125.56L339.45 125.56Z" fill="#37AD6B"/>
<path d="M348.4 133.36L350.9 128.86L345.9 128.86Z" fill="#37AD6B"/>
<path d="M354.85 136.2L357.35 131.7L352.35 131.7Z" fill="#37AD6B"/>
<path d="M361.3 138.33L363.8 133.83L358.8 133.83Z" fill="#37AD6B"/>
<path d="M367.75 141.18L370.25 136.68L365.25 136.68Z" fill="#37AD6B"/>
<path d="M374.2 143.59L376.7 139.09L371.7 139.09Z" fill="#37AD6B"/>
<path d="M380.65 145.8L383.15 141.3L378.15 141.3Z" fill="#37AD6B"/>
<path d="M387.1 148.97L389.6 144.47L384.6 144.47Z" fill="#37AD6B"/>
<path d="M393.55 151.86L396.05 147.36L391.05 147.36Z" fill="#37AD6B"/>
<path d="M400 153.62L402.5 149.12L397.5 149.12Z" fill="#37AD6B"/>
<path d="M406.45 155.67L408.95 151.17L403.95 151.17Z" fill="#37AD6B"/>
<path d="M412.9 156.58L415.4 152.08L410.4 152.08Z" fill="#37AD6B"/>
<path d="M419.35 155.09L421.85 150.59L416.85 150.59Z" fill="#37AD6B"/>
<path d="M425.8 154.99L428.3 150.49L423.3 150.49Z" fill="#37AD6B"/>
<path d="M432.25 157.21L434.75 152.71L429.75 152.71Z" fill="#37AD6B"/>
<path d="M438.7 158.96L441.2 154.46L436.2 154.46Z" fill="#37AD6B"/>
<path d="M445.15 161.9L447.65 157.4L442.65 157.4Z" fill="#37AD6B"/>
<path d="M451.6 165.19L454.1 160.69L449.1 160.69Z" fill="#37AD6B"/>
<path d="M458.05 168.65L460.55 164.15L455.55 164.15Z" fill="#37AD6B"/>
<path d="M464.5 171.32L467 166.82L462 166.82Z" fill="#37AD6B"/>
<path d="M470.95 174.55L473.45 170.05L468.45 170.05Z" fill="#37AD6B"/>
<path d="M477.4 177.24L479.9 172.74L474.9 172.74Z" fill="#37AD6B"/>
<path d="M483.85 179.58L486.35 175.08L481.35 175.08Z" fill="#37AD6B"/>
<path d="M490.3 182.14L492.8 177.64L487.8 177.64Z" fill="#37AD6B"/>
<path d="M496.75 184.59L499.25 180.09L494.25 180.09Z" fill="#37AD6B"/>
<path d="M503.2 187.04L505.7 182.54L500.7 182.54Z" fill="#37AD6B"/>
<path d="M509.65 189.49L512.15 184.99L507.15 184.99Z" fill="#37AD6B"/>
<path d="M516.1 191.93L518.6 187.43L513.6 187.43Z" fill="#37AD6B"/>
<path d="M522.55 194.38L525.05 189.88L520.05 189.88Z" fill="#37AD6B"/>
<path d="M529 196.83L531.5 192.33L526.5 192.33Z" fill="#37AD6B"/>
<path d="M535.45 199.28L537.95 194.78L532.95 194.78Z" fill="#37AD6B"/>
<path d="M541.9 201.73L544.4 197.23L539.4 197.23Z" fill="#37AD6B"/>
<ellipse cx="424.8" cy="149.2" rx="12.7" ry="19.2" fill="none" stroke="#b83a8a" stroke-width="0.9"/>
<rect x="409" y="183.4" width="48.4" height="55.3" fill="none" stroke="#f04848" stroke-width="1"/>
<path d="M417.3 111.2L422.64 126.48" stroke="#222" stroke-width="0.75"/>
<path d="M423.7 129.5L421.32 126.94L423.97 126.02Z" fill="#222"/>
<path d="M471.6 249.1L460.02 232.33" stroke="#222" stroke-width="0.75"/>
<path d="M458.2 229.7L461.17 231.54L458.87 233.13Z" fill="#222"/>
<text x="346.5" y="107.4" font-size="9.4" text-anchor="start" fill="#B41C70" textLength="172.6" lengthAdjust="spacingAndGlyphs">Temperature rise caused by plastic deformation</text>
<text x="446.2" y="256.6" font-size="8.4" text-anchor="start" fill="#2a9a96" textLength="53.8" lengthAdjust="spacingAndGlyphs">Heat conduction</text>
<path d="M509 130.7H527.8" stroke="#515151" stroke-width="1.5"/>
<rect x="516.6" y="128.8" width="3.8" height="3.8" fill="#515151"/>
<text x="532.2" y="134" font-size="8.9" text-anchor="start" fill="#2a2a2a">P5</text>
<path d="M509 140.6H527.8" stroke="#F14040" stroke-width="1.5"/>
<circle cx="518.5" cy="140.6" r="2.1" fill="#F14040"/>
<text x="532.2" y="143.9" font-size="8.9" text-anchor="start" fill="#2a2a2a">P6</text>
<path d="M509 150.9H527.8" stroke="#1A6FDF" stroke-width="1.5"/>
<path d="M518.5 148.28L521 152.78L516 152.78Z" fill="#1A6FDF"/>
<text x="532.2" y="154.2" font-size="8.9" text-anchor="start" fill="#2a2a2a">P7</text>
<path d="M509 160.9H527.8" stroke="#37AD6B" stroke-width="1.5"/>
<path d="M518.5 163.53L521 159.03L516 159.03Z" fill="#37AD6B"/>
<text x="532.2" y="164.2" font-size="8.9" text-anchor="start" fill="#2a2a2a">P8</text>
<text x="302.7" y="310.4" font-size="10.9" fill="#000" textLength="233.8" lengthAdjust="spacingAndGlyphs">(<tspan font-weight="bold">c</tspan>) Temperature of characteristic points in Section IV</text>
<path d="M180.3 314.5 V490.9 H400.9" fill="none" stroke="#2b2b2b" stroke-width="1.25"/>
<path d="M177.1 473.26H180.3" stroke="#2b2b2b" stroke-width="1"/>
<text x="174.6" y="476.76" font-size="9.4" text-anchor="end" fill="#2a2a2a" stroke="#2a2a2a" stroke-width="0.1">900</text>
<path d="M177.1 437.98H180.3" stroke="#2b2b2b" stroke-width="1"/>
<text x="174.6" y="441.48" font-size="9.4" text-anchor="end" fill="#2a2a2a" stroke="#2a2a2a" stroke-width="0.1">950</text>
<path d="M177.1 402.7H180.3" stroke="#2b2b2b" stroke-width="1"/>
<text x="174.6" y="406.2" font-size="9.4" text-anchor="end" fill="#2a2a2a" stroke="#2a2a2a" stroke-width="0.1">1000</text>
<path d="M177.1 367.42H180.3" stroke="#2b2b2b" stroke-width="1"/>
<text x="174.6" y="370.92" font-size="9.4" text-anchor="end" fill="#2a2a2a" stroke="#2a2a2a" stroke-width="0.1">1050</text>
<path d="M177.1 332.14H180.3" stroke="#2b2b2b" stroke-width="1"/>
<text x="174.6" y="335.64" font-size="9.4" text-anchor="end" fill="#2a2a2a" stroke="#2a2a2a" stroke-width="0.1">1100</text>
<path d="M178.5 455.62H180.3" stroke="#2b2b2b" stroke-width="0.9"/>
<path d="M178.5 420.34H180.3" stroke="#2b2b2b" stroke-width="0.9"/>
<path d="M178.5 385.06H180.3" stroke="#2b2b2b" stroke-width="0.9"/>
<path d="M178.5 349.78H180.3" stroke="#2b2b2b" stroke-width="0.9"/>
<path d="M180.3 490.9V494.1" stroke="#2b2b2b" stroke-width="1"/>
<text x="180.3" y="504.3" font-size="9.4" text-anchor="middle" fill="#2a2a2a" stroke="#2a2a2a" stroke-width="0.1">0</text>
<path d="M221.8 490.9V494.1" stroke="#2b2b2b" stroke-width="1"/>
<text x="221.8" y="504.3" font-size="9.4" text-anchor="middle" fill="#2a2a2a" stroke="#2a2a2a" stroke-width="0.1">5</text>
<path d="M263.3 490.9V494.1" stroke="#2b2b2b" stroke-width="1"/>
<text x="263.3" y="504.3" font-size="9.4" text-anchor="middle" fill="#2a2a2a" stroke="#2a2a2a" stroke-width="0.1">10</text>
<path d="M304.8 490.9V494.1" stroke="#2b2b2b" stroke-width="1"/>
<text x="304.8" y="504.3" font-size="9.4" text-anchor="middle" fill="#2a2a2a" stroke="#2a2a2a" stroke-width="0.1">15</text>
<path d="M346.3 490.9V494.1" stroke="#2b2b2b" stroke-width="1"/>
<text x="346.3" y="504.3" font-size="9.4" text-anchor="middle" fill="#2a2a2a" stroke="#2a2a2a" stroke-width="0.1">20</text>
<path d="M387.8 490.9V494.1" stroke="#2b2b2b" stroke-width="1"/>
<text x="387.8" y="504.3" font-size="9.4" text-anchor="middle" fill="#2a2a2a" stroke="#2a2a2a" stroke-width="0.1">25</text>
<path d="M201.05 490.9V492.7" stroke="#2b2b2b" stroke-width="0.9"/>
<path d="M242.55 490.9V492.7" stroke="#2b2b2b" stroke-width="0.9"/>
<path d="M284.05 490.9V492.7" stroke="#2b2b2b" stroke-width="0.9"/>
<path d="M325.55 490.9V492.7" stroke="#2b2b2b" stroke-width="0.9"/>
<path d="M367.05 490.9V492.7" stroke="#2b2b2b" stroke-width="0.9"/>
<text x="290.8" y="517" font-size="9" text-anchor="middle" fill="#111" font-weight="bold" textLength="31.7" lengthAdjust="spacingAndGlyphs">Time (s)</text>
<text x="0" y="0" font-size="9.1" text-anchor="middle" fill="#111" font-weight="bold" textLength="69.1" lengthAdjust="spacingAndGlyphs" transform="translate(152.3 402.2) rotate(-90)">Temperature (°C)</text>
<path d="M180.4 331.4 L186 340.4 L193.4 344.9 L199.4 348.6 L206.9 351.6 L213.6 353.5 L219.6 355.3 L226.3 357.5 L232.2 359.5 L239 361.3 L245.7 363.5 L252.4 365.4 L259.1 367.5 L330 388.4 L336.7 390.6 L343.4 392.1 L350.1 394.3 L352.4 398.8 L354.6 413.7 L356.1 424.9 L357.6 435.4 L359.1 441.3 L361.3 453.3 L364 463 L366.6 462.2 L369.1 461.5 L374 449.6 L380.7 440.6 L387.5 435.7 L394.2 433.1 L400.1 432.1" fill="none" stroke="#515151" stroke-width="1.6" stroke-linejoin="round" stroke-linecap="round"/>
<rect x="178.5" y="329.5" width="3.8" height="3.8" fill="#515151"/>
<rect x="183.6" y="337.7" width="3.8" height="3.8" fill="#515151"/>
<rect x="190.2" y="342.21" width="3.8" height="3.8" fill="#515151"/>
<rect x="196.8" y="346.27" width="3.8" height="3.8" fill="#515151"/>
<rect x="203.4" y="349.06" width="3.8" height="3.8" fill="#515151"/>
<rect x="210" y="351.12" width="3.8" height="3.8" fill="#515151"/>
<rect x="216.6" y="353.07" width="3.8" height="3.8" fill="#515151"/>
<rect x="223.2" y="355.21" width="3.8" height="3.8" fill="#515151"/>
<rect x="229.8" y="357.43" width="3.8" height="3.8" fill="#515151"/>
<rect x="236.4" y="359.21" width="3.8" height="3.8" fill="#515151"/>
<rect x="243" y="361.34" width="3.8" height="3.8" fill="#515151"/>
<rect x="249.6" y="363.24" width="3.8" height="3.8" fill="#515151"/>
<rect x="256.2" y="365.29" width="3.8" height="3.8" fill="#515151"/>
<rect x="262.8" y="367.25" width="3.8" height="3.8" fill="#515151"/>
<rect x="269.4" y="369.2" width="3.8" height="3.8" fill="#515151"/>
<rect x="276" y="371.14" width="3.8" height="3.8" fill="#515151"/>
<rect x="282.6" y="373.09" width="3.8" height="3.8" fill="#515151"/>
<rect x="289.2" y="375.03" width="3.8" height="3.8" fill="#515151"/>
<rect x="295.8" y="376.98" width="3.8" height="3.8" fill="#515151"/>
<rect x="302.4" y="378.92" width="3.8" height="3.8" fill="#515151"/>
<rect x="309" y="380.87" width="3.8" height="3.8" fill="#515151"/>
<rect x="315.6" y="382.82" width="3.8" height="3.8" fill="#515151"/>
<rect x="322.2" y="384.76" width="3.8" height="3.8" fill="#515151"/>
<rect x="328.8" y="386.73" width="3.8" height="3.8" fill="#515151"/>
<rect x="335.4" y="388.83" width="3.8" height="3.8" fill="#515151"/>
<rect x="342" y="390.36" width="3.8" height="3.8" fill="#515151"/>
<rect x="348.6" y="393.18" width="3.8" height="3.8" fill="#515151"/>
<rect x="352.7" y="411.8" width="3.8" height="3.8" fill="#515151"/>
<rect x="359.4" y="451.4" width="3.8" height="3.8" fill="#515151"/>
<rect x="364.7" y="460.3" width="3.8" height="3.8" fill="#515151"/>
<rect x="367.2" y="459.6" width="3.8" height="3.8" fill="#515151"/>
<rect x="372.1" y="447.7" width="3.8" height="3.8" fill="#515151"/>
<rect x="378.8" y="438.7" width="3.8" height="3.8" fill="#515151"/>
<rect x="385.6" y="433.8" width="3.8" height="3.8" fill="#515151"/>
<rect x="392.3" y="431.2" width="3.8" height="3.8" fill="#515151"/>
<rect x="398.2" y="430.2" width="3.8" height="3.8" fill="#515151"/>
<path d="M180.4 331.4 L186.7 332.2 L193.4 333.7 L200.1 336.2 L206.1 337.7 L212.8 340.1 L219.6 341.9 L225.5 343.4 L232.2 345.3 L239 347.5 L245.7 349.6 L252.4 351.6 L259.1 354.1 L330 374.9 L336.7 377.2 L343.4 379.1 L350.1 381.6 L356.1 380.9 L362.1 379.1 L368.1 378.7 L370.3 386.1 L374 395.8 L380.7 403.3 L387.5 407.5 L394.2 410 L400.1 411.7" fill="none" stroke="#F14040" stroke-width="1.6" stroke-linejoin="round" stroke-linecap="round"/>
<circle cx="180.4" cy="331.4" r="2.1" fill="#F14040"/>
<circle cx="185.5" cy="332.05" r="2.1" fill="#F14040"/>
<circle cx="192.1" cy="333.41" r="2.1" fill="#F14040"/>
<circle cx="198.7" cy="335.68" r="2.1" fill="#F14040"/>
<circle cx="205.3" cy="337.5" r="2.1" fill="#F14040"/>
<circle cx="211.9" cy="339.78" r="2.1" fill="#F14040"/>
<circle cx="218.5" cy="341.61" r="2.1" fill="#F14040"/>
<circle cx="225.1" cy="343.3" r="2.1" fill="#F14040"/>
<circle cx="231.7" cy="345.16" r="2.1" fill="#F14040"/>
<circle cx="238.3" cy="347.27" r="2.1" fill="#F14040"/>
<circle cx="244.9" cy="349.35" r="2.1" fill="#F14040"/>
<circle cx="251.5" cy="351.33" r="2.1" fill="#F14040"/>
<circle cx="258.1" cy="353.73" r="2.1" fill="#F14040"/>
<circle cx="264.7" cy="355.74" r="2.1" fill="#F14040"/>
<circle cx="271.3" cy="357.68" r="2.1" fill="#F14040"/>
<circle cx="277.9" cy="359.62" r="2.1" fill="#F14040"/>
<circle cx="284.5" cy="361.55" r="2.1" fill="#F14040"/>
<circle cx="291.1" cy="363.49" r="2.1" fill="#F14040"/>
<circle cx="297.7" cy="365.42" r="2.1" fill="#F14040"/>
<circle cx="304.3" cy="367.36" r="2.1" fill="#F14040"/>
<circle cx="310.9" cy="369.3" r="2.1" fill="#F14040"/>
<circle cx="317.5" cy="371.23" r="2.1" fill="#F14040"/>
<circle cx="324.1" cy="373.17" r="2.1" fill="#F14040"/>
<circle cx="330.7" cy="375.14" r="2.1" fill="#F14040"/>
<circle cx="337.3" cy="377.37" r="2.1" fill="#F14040"/>
<circle cx="343.9" cy="379.29" r="2.1" fill="#F14040"/>
<circle cx="350.5" cy="381.55" r="2.1" fill="#F14040"/>
<circle cx="357.1" cy="380.6" r="2.1" fill="#F14040"/>
<circle cx="363.7" cy="378.99" r="2.1" fill="#F14040"/>
<circle cx="370.3" cy="386.1" r="2.1" fill="#F14040"/>
<circle cx="376.9" cy="399.05" r="2.1" fill="#F14040"/>
<circle cx="383.5" cy="405.03" r="2.1" fill="#F14040"/>
<circle cx="390.1" cy="408.47" r="2.1" fill="#F14040"/>
<circle cx="396.7" cy="410.72" r="2.1" fill="#F14040"/>
<path d="M180.4 331.4 L186.7 332.2 L193.4 333.7 L200.1 336.2 L206.1 337.7 L212.8 340.1 L219.6 341.9 L225.5 343.4 L232.2 345.3 L239 347.5 L245.7 349.6 L252.4 351.6 L259.1 354.1 L330 374.9 L336.7 377.2 L343.4 379.1 L350.1 381.6 L356.1 380.9 L362.1 379.1 L368.1 378.7 L371 384.6 L374 390.6 L380.7 398.1 L387.5 403.3 L394.2 406.3 L400.1 408.1" fill="none" stroke="#1A6FDF" stroke-width="1.6" stroke-linejoin="round" stroke-linecap="round"/>
<path d="M180.4 328.77L182.9 333.27L177.9 333.27Z" fill="#1A6FDF"/>
<path d="M185.5 329.42L188 333.92L183 333.92Z" fill="#1A6FDF"/>
<path d="M192.1 330.78L194.6 335.28L189.6 335.28Z" fill="#1A6FDF"/>
<path d="M198.7 333.05L201.2 337.55L196.2 337.55Z" fill="#1A6FDF"/>
<path d="M205.3 334.88L207.8 339.38L202.8 339.38Z" fill="#1A6FDF"/>
<path d="M211.9 337.15L214.4 341.65L209.4 341.65Z" fill="#1A6FDF"/>
<path d="M218.5 338.98L221 343.48L216 343.48Z" fill="#1A6FDF"/>
<path d="M225.1 340.67L227.6 345.17L222.6 345.17Z" fill="#1A6FDF"/>
<path d="M231.7 342.53L234.2 347.03L229.2 347.03Z" fill="#1A6FDF"/>
<path d="M238.3 344.65L240.8 349.15L235.8 349.15Z" fill="#1A6FDF"/>
<path d="M244.9 346.72L247.4 351.22L242.4 351.22Z" fill="#1A6FDF"/>
<path d="M251.5 348.71L254 353.21L249 353.21Z" fill="#1A6FDF"/>
<path d="M258.1 351.1L260.6 355.6L255.6 355.6Z" fill="#1A6FDF"/>
<path d="M264.7 353.12L267.2 357.62L262.2 357.62Z" fill="#1A6FDF"/>
<path d="M271.3 355.05L273.8 359.55L268.8 359.55Z" fill="#1A6FDF"/>
<path d="M277.9 356.99L280.4 361.49L275.4 361.49Z" fill="#1A6FDF"/>
<path d="M284.5 358.93L287 363.43L282 363.43Z" fill="#1A6FDF"/>
<path d="M291.1 360.86L293.6 365.36L288.6 365.36Z" fill="#1A6FDF"/>
<path d="M297.7 362.8L300.2 367.3L295.2 367.3Z" fill="#1A6FDF"/>
<path d="M304.3 364.74L306.8 369.24L301.8 369.24Z" fill="#1A6FDF"/>
<path d="M310.9 366.67L313.4 371.17L308.4 371.17Z" fill="#1A6FDF"/>
<path d="M317.5 368.61L320 373.11L315 373.11Z" fill="#1A6FDF"/>
<path d="M324.1 370.54L326.6 375.04L321.6 375.04Z" fill="#1A6FDF"/>
<path d="M330.7 372.52L333.2 377.02L328.2 377.02Z" fill="#1A6FDF"/>
<path d="M337.3 374.75L339.8 379.25L334.8 379.25Z" fill="#1A6FDF"/>
<path d="M343.9 376.66L346.4 381.16L341.4 381.16Z" fill="#1A6FDF"/>
<path d="M350.5 378.93L353 383.43L348 383.43Z" fill="#1A6FDF"/>
<path d="M357.1 377.97L359.6 382.47L354.6 382.47Z" fill="#1A6FDF"/>
<path d="M363.7 376.37L366.2 380.87L361.2 380.87Z" fill="#1A6FDF"/>
<path d="M370.3 380.55L372.8 385.05L367.8 385.05Z" fill="#1A6FDF"/>
<path d="M376.9 391.22L379.4 395.72L374.4 395.72Z" fill="#1A6FDF"/>
<path d="M383.5 397.62L386 402.12L381 402.12Z" fill="#1A6FDF"/>
<path d="M390.1 401.84L392.6 406.34L387.6 406.34Z" fill="#1A6FDF"/>
<path d="M396.7 404.44L399.2 408.94L394.2 408.94Z" fill="#1A6FDF"/>
<path d="M180.4 332 L186 338.9 L193.4 343.4 L199.4 346.3 L206.9 349 L213.6 350.8 L219.6 353.1 L226.3 354.6 L232.2 356 L239 357.5 L245.7 359.5 L252.4 361.3 L259.1 363.5 L330 383.1 L336.7 385.4 L343.4 386.9 L350.1 388.1 L355.4 386.9 L361.3 384.6 L368.1 381.6 L374.8 383.1 L381.5 386.6 L388.2 389.9 L394.2 393.6 L400.1 397" fill="none" stroke="#37AD6B" stroke-width="1.6" stroke-linejoin="round" stroke-linecap="round"/>
<path d="M180.4 334.62L182.9 330.12L177.9 330.12Z" fill="#37AD6B"/>
<path d="M185.5 340.91L188 336.41L183 336.41Z" fill="#37AD6B"/>
<path d="M192.1 345.23L194.6 340.73L189.6 340.73Z" fill="#37AD6B"/>
<path d="M198.7 348.59L201.2 344.09L196.2 344.09Z" fill="#37AD6B"/>
<path d="M205.3 351.05L207.8 346.55L202.8 346.55Z" fill="#37AD6B"/>
<path d="M211.9 352.97L214.4 348.47L209.4 348.47Z" fill="#37AD6B"/>
<path d="M218.5 355.3L221 350.8L216 350.8Z" fill="#37AD6B"/>
<path d="M225.1 356.96L227.6 352.46L222.6 352.46Z" fill="#37AD6B"/>
<path d="M231.7 358.51L234.2 354.01L229.2 354.01Z" fill="#37AD6B"/>
<path d="M238.3 359.97L240.8 355.47L235.8 355.47Z" fill="#37AD6B"/>
<path d="M244.9 361.89L247.4 357.39L242.4 357.39Z" fill="#37AD6B"/>
<path d="M251.5 363.68L254 359.18L249 359.18Z" fill="#37AD6B"/>
<path d="M258.1 365.8L260.6 361.3L255.6 361.3Z" fill="#37AD6B"/>
<path d="M264.7 367.67L267.2 363.17L262.2 363.17Z" fill="#37AD6B"/>
<path d="M271.3 369.5L273.8 365L268.8 365Z" fill="#37AD6B"/>
<path d="M277.9 371.32L280.4 366.82L275.4 366.82Z" fill="#37AD6B"/>
<path d="M284.5 373.15L287 368.65L282 368.65Z" fill="#37AD6B"/>
<path d="M291.1 374.97L293.6 370.47L288.6 370.47Z" fill="#37AD6B"/>
<path d="M297.7 376.8L300.2 372.3L295.2 372.3Z" fill="#37AD6B"/>
<path d="M304.3 378.62L306.8 374.12L301.8 374.12Z" fill="#37AD6B"/>
<path d="M310.9 380.44L313.4 375.94L308.4 375.94Z" fill="#37AD6B"/>
<path d="M317.5 382.27L320 377.77L315 377.77Z" fill="#37AD6B"/>
<path d="M324.1 384.09L326.6 379.59L321.6 379.59Z" fill="#37AD6B"/>
<path d="M330.7 385.97L333.2 381.47L328.2 381.47Z" fill="#37AD6B"/>
<path d="M337.3 388.16L339.8 383.66L334.8 383.66Z" fill="#37AD6B"/>
<path d="M343.9 389.61L346.4 385.11L341.4 385.11Z" fill="#37AD6B"/>
<path d="M350.5 390.63L353 386.13L348 386.13Z" fill="#37AD6B"/>
<path d="M357.1 388.86L359.6 384.36L354.6 384.36Z" fill="#37AD6B"/>
<path d="M363.7 386.17L366.2 381.67L361.2 381.67Z" fill="#37AD6B"/>
<path d="M370.3 384.72L372.8 380.22L367.8 380.22Z" fill="#37AD6B"/>
<path d="M376.9 386.82L379.4 382.32L374.4 382.32Z" fill="#37AD6B"/>
<path d="M383.5 390.21L386 385.71L381 385.71Z" fill="#37AD6B"/>
<path d="M390.1 393.7L392.6 389.2L387.6 389.2Z" fill="#37AD6B"/>
<path d="M396.7 397.67L399.2 393.17L394.2 393.17Z" fill="#37AD6B"/>
<ellipse cx="368.7" cy="387.9" rx="19.5" ry="15.7" fill="none" stroke="#b83a8a" stroke-width="0.9"/>
<rect x="348.2" y="411.2" width="39.7" height="55.2" fill="none" stroke="#f07070" stroke-width="0.9"/>
<path d="M337.3 330.3L354.72 370.27" stroke="#222" stroke-width="0.75"/>
<path d="M356 373.2L353.44 370.83L356 369.71Z" fill="#222"/>
<path d="M314.2 457.5L344.58 446.86" stroke="#222" stroke-width="0.75"/>
<path d="M347.6 445.8L345.04 448.18L344.12 445.54Z" fill="#222"/>
<text x="192.7" y="325" font-size="9.7" text-anchor="start" fill="#B41C70" textLength="173.7" lengthAdjust="spacingAndGlyphs">Temperature rise caused by plastic deformation</text>
<text x="257.9" y="464" font-size="8.7" text-anchor="start" fill="#2a9a96" textLength="54.1" lengthAdjust="spacingAndGlyphs">Heat condition</text>
<path d="M363.5 333.1H382.8" stroke="#515151" stroke-width="1.5"/>
<rect x="371.4" y="331.2" width="3.8" height="3.8" fill="#515151"/>
<text x="386.9" y="336.2" font-size="9.1" text-anchor="start" fill="#2a2a2a">P9</text>
<path d="M363.5 343.3H382.8" stroke="#F14040" stroke-width="1.5"/>
<circle cx="373.3" cy="343.3" r="2.1" fill="#F14040"/>
<text x="386.9" y="346.4" font-size="9.1" text-anchor="start" fill="#2a2a2a">P10</text>
<path d="M363.5 353.1H382.8" stroke="#1A6FDF" stroke-width="1.5"/>
<path d="M373.3 350.48L375.8 354.98L370.8 354.98Z" fill="#1A6FDF"/>
<text x="386.9" y="356.2" font-size="9.1" text-anchor="start" fill="#2a2a2a">P11</text>
<path d="M363.5 363.3H382.8" stroke="#37AD6B" stroke-width="1.5"/>
<path d="M373.3 365.93L375.8 361.43L370.8 361.43Z" fill="#37AD6B"/>
<text x="386.9" y="366.4" font-size="9.1" text-anchor="start" fill="#2a2a2a">P12</text>
<text x="152.1" y="530.4" font-size="10.9" fill="#000" textLength="240.2" lengthAdjust="spacingAndGlyphs">(<tspan font-weight="bold">d</tspan>) Temperature of characteristic points in Section VII</text>
</svg></body></html>
